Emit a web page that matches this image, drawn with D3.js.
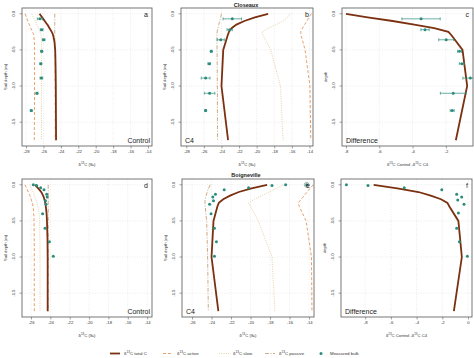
<!DOCTYPE html>
<html><head><meta charset="utf-8">
<script src="https://cdn.jsdelivr.net/npm/d3@7"></script>
<style>
body{margin:0;background:#fff;}
svg{font-family:"Liberation Sans",Arial,sans-serif;}
</style></head>
<body><svg id="c" width="474" height="358"></svg>
<script>
// ---------- data ----------
const simDepth = [0, -0.05, -0.1, -0.15, -0.2, -0.25, -0.3, -0.5, -1.0, -1.75];
// Closeaux
const aTotal   = [-26.45, -26.15, -25.85, -25.55, -25.3, -25.05, -24.88, -24.65, -24.58, -24.55];
const aActive  = [-28.1, -27.95, -27.8, -27.62, -27.45, -27.25, -27.1, -27.02, -27.02, -27.05];
const aSlow    = [-27.35, -27.15, -26.95, -26.75, -26.55, -26.38, -26.25, -26.22, -26.22, -26.22];
const aPassive = [-24.7, -24.7, -24.7, -24.7, -24.7, -24.7, -24.7, -24.68, -24.66, -24.65];
const bTotal   = [-18.7, -20.2, -21.4, -22.3, -22.85, -23.15, -23.3, -23.8, -24.0, -23.25];
const bActive  = [-13.8, -14.05, -14.3, -14.55, -14.8, -15.0, -14.95, -14.5, -13.95, -13.85];
const bSlow    = [-16.2, -16.5, -17.0, -17.8, -18.7, -19.4, -19.25, -18.4, -17.3, -17.0];
const bPassive = [-24.0, -24.1, -24.2, -24.3, -24.4, -24.5, -24.52, -24.5, -24.47, -24.45];
const cTotal   = [-8.0, -6.7, -5.2, -3.9, -2.7, -1.85, -1.65, -1.0, -0.72, -1.4];
const closeDepth = [-0.07, -0.22, -0.36, -0.52, -0.69, -0.89, -1.10, -1.34];
const aBulk    = [-26.4, -26.2, -25.97, -26.2, -26.3, -26.24, -26.74, -27.4];
const aBulkErr = [0.3, 0.15, 0.15, 0.1, 0.1, 0.15, 0.1, 0.1];
const bBulk    = [-22.77, -23.07, -24.08, -25.16, -25.39, -25.8, -25.35, -25.8];
const bBulkErr = [1.05, 0.3, 0.4, 0.1, 0.15, 0.5, 0.6, 0.1];
const cBulk    = [-3.49, -3.25, -1.98, -1.18, -1.04, -0.53, -1.56, -1.62];
const cBulkErr = [1.15, 0.25, 0.45, 0.12, 0.15, 0.45, 0.77, 0.12];
// Boigneville
const dTotal   = [-25.6, -25.25, -24.95, -24.75, -24.62, -24.53, -24.47, -24.35, -24.28, -24.28];
const dActive  = [-26.62, -26.45, -26.28, -26.12, -25.98, -25.87, -25.79, -25.69, -25.66, -25.66];
const dSlow    = [-26.1, -25.95, -25.8, -25.65, -25.5, -25.38, -25.28, -25.12, -25.07, -25.07];
const dPassive = [-24.22, -24.22, -24.22, -24.22, -24.22, -24.22, -24.22, -24.22, -24.22, -24.22];
const eTotal   = [-18.3, -19.9, -21.2, -22.1, -22.8, -23.25, -23.4, -23.8, -24.0, -23.3];
const eActive  = [-13.56, -13.9, -14.2, -14.5, -14.8, -15.1, -15.0, -14.3, -13.75, -13.7];
const eSlow    = [-16.6, -17.35, -18.1, -18.85, -19.6, -20.2, -20.0, -19.2, -17.8, -17.5];
const ePassive = [-24.15, -24.3, -24.45, -24.55, -24.65, -24.68, -24.65, -24.5, -24.4, -24.33];
const fTotal   = [-7.34, -5.5, -3.85, -2.9, -2.1, -1.6, -1.45, -0.75, -0.48, -1.1];
const boigDepth  = [0, -0.01, -0.04, -0.07, -0.13, -0.17, -0.22, -0.27, -0.4, -0.6, -0.79, -0.99];
const dBulk    = [-25.76, -25.41, -25.0, -24.66, -24.38, -24.32, -24.5, -24.45, -24.8, -24.55, -24.1, -23.7];
const eBulkDepth = [0, 0, -0.01, -0.04, -0.07, -0.13, -0.17, -0.22, -0.27, -0.4, -0.6, -0.79, -0.99];
const eBulk    = [-14.24, -16.4, -17.8, -20.2, -22.7, -23.6, -23.87, -23.8, -24.2, -24.05, -23.7, -23.5, -23.7];
const fBulkDepth = [0, -0.01, -0.04, -0.07, -0.13, -0.17, -0.21, -0.27, -0.39, -0.6, -0.79, -0.99];
const fBulk    = [-9.46, -7.78, -4.96, -2.04, -0.88, -0.49, -0.8, -0.31, -0.75, -0.88, -0.67, -0.05];
// ticks
const isoTicksA = [-28, -26, -24, -22, -20, -18, -16, -14];
const isoTicksB = [-26, -24, -22, -20, -18, -16, -14];
const diffTicksC = [-8, -6, -4, -2];
const diffTicksF = [-8, -6, -4, -2, 0];
const depthTicks = [0, -0.5, -1.0, -1.5];
const siteTitles = ["Closeaux", "Boigneville"];
const legendLabels = ["total C", "active", "slow", "passive"];

// ---------- styles ----------
const ST = {
  total:   {color:"#7b3010", w:1.8, dash:null},
  active:  {color:"#e3965a", w:0.9, dash:"3,2"},
  slow:    {color:"#e2cc9c", w:0.9, dash:"1,1.3"},
  passive: {color:"#c9a07a", w:0.9, dash:"4,1.5,1,1.5"}
};
const PT = "#2b8c7c";

const svg = d3.select("#c");
const defs = svg.append("defs");

function iso(sel, pre, post){
  sel.append("tspan").text(pre||"");
  sel.append("tspan").text("δ");
  sel.append("tspan").attr("baseline-shift","super").attr("font-size","70%").text("13");
  sel.append("tspan").text("C" + post);
}

function panel(cfg, idx){
  const {x0,y0,w,h} = cfg;
  const xs = d3.scaleLinear().domain(cfg.xDom).range([x0, x0+w]);
  const ys = d3.scaleLinear().domain([0.08, -1.83]).range([y0, y0+h]);
  const g = svg.append("g");
  const cid = "clip"+idx;
  defs.append("clipPath").attr("id",cid).append("rect").attr("x",x0).attr("y",y0).attr("width",w).attr("height",h);
  // grid
  g.selectAll(".gx").data(cfg.xTicks).enter().append("line")
    .attr("x1",d=>xs(d)).attr("x2",d=>xs(d)).attr("y1",y0).attr("y2",y0+h)
    .attr("stroke","#d8d8d8").attr("stroke-width",0.5).attr("stroke-dasharray","1,1.5");
  g.selectAll(".gy").data(depthTicks).enter().append("line")
    .attr("y1",d=>ys(d)).attr("y2",d=>ys(d)).attr("x1",x0).attr("x2",x0+w)
    .attr("stroke","#d8d8d8").attr("stroke-width",0.5).attr("stroke-dasharray","1,1.5");
  // axes
  const ax = g.append("g").attr("transform",`translate(0,${y0+h})`)
    .call(d3.axisBottom(xs).tickValues(cfg.xTicks).tickSize(2.5).tickPadding(2).tickFormat(d=>String(d)));
  const ay = g.append("g").attr("transform",`translate(${x0},0)`)
    .call(d3.axisLeft(ys).tickValues(depthTicks).tickSize(2.5).tickPadding(2).tickFormat(d=>d.toFixed(1)));
  [ax,ay].forEach(a=>{a.select(".domain").remove(); a.selectAll("line").attr("stroke","#666").attr("stroke-width",0.6);
    a.selectAll("text").attr("font-size",4.2).attr("fill","#333").attr("font-family","Liberation Sans, Arial");});
  ay.selectAll("text").attr("text-anchor","middle").attr("dy",null).attr("x",null)
    .attr("transform",d=>`translate(${-7},${ys(d)}) rotate(-90)`).attr("y",0);
  ay.selectAll(".tick").attr("transform",null);
  ay.selectAll(".tick line").attr("y1",d=>ys(d)).attr("y2",d=>ys(d));
  // lines
  const pg = g.append("g").attr("clip-path",`url(#${cid})`);
  const curve = cfg.smooth ? d3.curveMonotoneY : d3.curveLinear;
  (cfg.lines||[]).forEach(L=>{
    const s = ST[L.type];
    const gen = d3.line().x(d=>xs(d[0])).y(d=>ys(d[1])).curve(curve);
    pg.append("path").datum(L.vals.map((v,i)=>[v, simDepth[i]]))
      .attr("d",gen).attr("fill","none").attr("stroke",s.color).attr("stroke-width",s.w)
      .attr("stroke-dasharray",s.dash);
  });
  // points
  if(cfg.pts){
    const P = cfg.pts.vals.map((v,i)=>({v, d:cfg.pts.depth[i], e:cfg.pts.err?cfg.pts.err[i]:0}));
    P.filter(p=>p.e>0).forEach(p=>{
      const yy = ys(p.d);
      pg.append("line").attr("x1",xs(p.v-p.e)).attr("x2",xs(p.v+p.e)).attr("y1",yy).attr("y2",yy).attr("stroke",PT).attr("stroke-width",0.7);
      [p.v-p.e,p.v+p.e].forEach(xv=>pg.append("line").attr("x1",xs(xv)).attr("x2",xs(xv)).attr("y1",yy-1.5).attr("y2",yy+1.5).attr("stroke",PT).attr("stroke-width",0.7));
    });
    pg.selectAll(".pt").data(P).enter().append("circle")
      .attr("cx",p=>xs(p.v)).attr("cy",p=>ys(p.d)).attr("r",1.5).attr("fill",PT);
    if(cfg.ring!==undefined){
      const p=P[cfg.ring];
      pg.append("circle").attr("cx",xs(p.v)).attr("cy",ys(p.d)).attr("r",2.4).attr("fill","none").attr("stroke","#888").attr("stroke-width",0.7);
    }
  }
  // box
  g.append("rect").attr("x",x0).attr("y",y0).attr("width",w).attr("height",h)
    .attr("fill","none").attr("stroke","#555").attr("stroke-width",0.8);
  // letter
  g.append("text").attr("x",x0+w-4).attr("y",y0+9).attr("text-anchor","end")
    .attr("font-size",7).attr("fill","#222").text(cfg.letter);
  // treatment label
  const tl = g.append("text").attr("y",y0+h-3.5).attr("font-size",7).attr("fill","#222").text(cfg.label);
  if(cfg.labelRight) tl.attr("x",x0+w-2).attr("text-anchor","end"); else tl.attr("x",x0+4);
  // x title
  const xt = g.append("text").attr("x",x0+w/2).attr("y",y0+h+19.5).attr("text-anchor","middle")
    .attr("font-size",4.2).attr("fill","#333");
  if(cfg.diff){ iso(xt,""," Control -"); iso(xt,""," C4"); }
  else iso(xt,""," (‰)");
  // y title
  g.append("text").attr("transform",`translate(${x0-15.5},${y0+h/2}) rotate(-90)`).attr("text-anchor","middle")
    .attr("font-size",4.2).attr("fill","#333").text(cfg.diff?"depth":"Soil depth (m)");
}

const lines4 = (t,a,s,p)=>[
  {type:"passive",vals:p},{type:"slow",vals:s},{type:"active",vals:a},{type:"total",vals:t}];

panel({x0:22,y0:8,w:130,h:138,xDom:[-28.46,-13.54],xTicks:isoTicksA,smooth:true,
  lines:lines4(aTotal,aActive,aSlow,aPassive),pts:{depth:closeDepth,vals:aBulk,err:aBulkErr},
  letter:"a",label:"Control",labelRight:true},0);
panel({x0:181,y0:8,w:132,h:138,xDom:[-28.6,-13.6],xTicks:isoTicksA,
  lines:lines4(bTotal,bActive,bSlow,bPassive),pts:{depth:closeDepth,vals:bBulk,err:bBulkErr},
  letter:"b",label:"C4"},1);
panel({x0:342,y0:8,w:131,h:138,xDom:[-8.24,-0.37],xTicks:diffTicksC,diff:true,
  lines:[{type:"total",vals:cTotal}],pts:{depth:closeDepth,vals:cBulk,err:cBulkErr},
  letter:"c",label:"Difference"},2);
panel({x0:22,y0:179,w:130,h:138,xDom:[-26.93,-13.5],xTicks:isoTicksB,smooth:true,
  lines:lines4(dTotal,dActive,dSlow,dPassive),pts:{depth:boigDepth,vals:dBulk},
  letter:"d",label:"Control",labelRight:true},3);
panel({x0:182,y0:179,w:132,h:138,xDom:[-27.03,-13.49],xTicks:isoTicksB,
  lines:lines4(eTotal,eActive,eSlow,ePassive),pts:{depth:eBulkDepth,vals:eBulk},ring:0,
  letter:"e",label:"C4"},4);
panel({x0:341,y0:179,w:131,h:138,xDom:[-9.88,0.31],xTicks:diffTicksF,diff:true,
  lines:[{type:"total",vals:fTotal}],pts:{depth:fBulkDepth,vals:fBulk},
  letter:"f",label:"Difference"},5);

// site titles
svg.append("text").attr("x",246).attr("y",6.5).attr("text-anchor","middle").attr("font-size",5.5)
  .attr("font-weight","bold").attr("fill","#222").text(siteTitles[0]);
svg.append("text").attr("x",246).attr("y",176.5).attr("text-anchor","middle").attr("font-size",5.5)
  .attr("font-weight","bold").attr("fill","#222").text(siteTitles[1]);

// legend
const lg = svg.append("g");
const legX = [110, 163, 219, 265];
const keys = ["total","active","slow","passive"];
const ly = 353.5;
keys.forEach((k,i)=>{
  const s = ST[k];
  lg.append("line").attr("x1",legX[i]).attr("x2",legX[i]+10).attr("y1",ly).attr("y2",ly)
    .attr("stroke",s.color).attr("stroke-width",k==="total"?1.8:0.9).attr("stroke-dasharray",s.dash);
  const t = lg.append("text").attr("x",legX[i]+14).attr("y",ly+1.5).attr("font-size",4.4).attr("fill","#333");
  iso(t,""," "+legendLabels[i]);
});
lg.append("circle").attr("cx",321).attr("cy",ly).attr("r",1.5).attr("fill",PT);
lg.append("text").attr("x",330).attr("y",ly+1.5).attr("font-size",4.4).attr("fill","#333").text("Measured bulk");
</script></body></html>
